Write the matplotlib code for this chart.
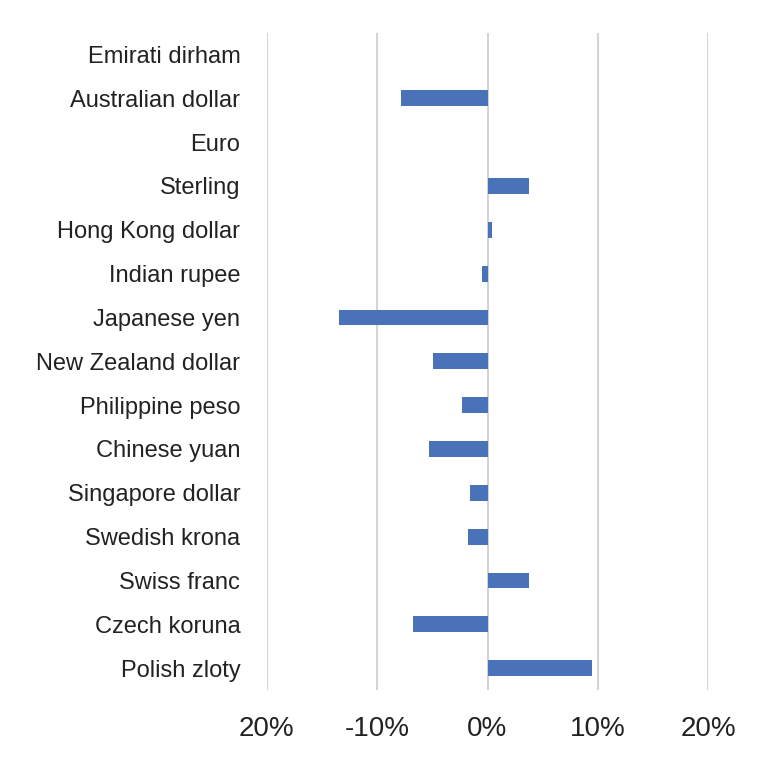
import matplotlib
matplotlib.use('Agg')
import matplotlib.pyplot as plt
import numpy as np

currencies = ['Emirati dirham', 'Australian dollar', 'Euro', 'Sterling', 'Hong Kong dollar',
              'Indian rupee', 'Japanese yen', 'New Zealand dollar', 'Philippine peso',
              'Chinese yuan', 'Singapore dollar', 'Swedish krona', 'Swiss franc',
              'Czech koruna', 'Polish zloty']
changes = [0.0, -7.8, 0.05, 3.8, 0.45, -0.5, -13.5, -4.9, -2.3, -5.3, -1.55, -1.8, 3.75, -6.75, 9.5]
xticks = [-20, -10, 0, 10, 20]
xtick_labels = ['20%', '-10%', '0%', '10%', '20%']

plt.rcParams['font.family'] = ['Liberation Sans', 'DejaVu Sans']

fig = plt.figure(figsize=(7.8, 7.76), dpi=100)
ax = fig.add_axes([0.342, 0.1108, 0.566, 0.8472])

y = np.arange(len(currencies))[::-1]
ax.barh(y, changes, height=0.36, color='#4A72B8', zorder=3)

ax.set_xlim(-20, 20)
ax.set_ylim(-0.5, len(currencies) - 0.5)
ax.set_xticks(xticks)
ax.set_xticklabels(xtick_labels, fontsize=20, color='#222222')
ax.set_yticks(y)
ax.set_yticklabels(currencies, fontsize=17, color='#222222')
ax.tick_params(axis='both', length=0)
ax.tick_params(axis='y', pad=19)
ax.tick_params(axis='x', pad=19)
ax.grid(axis='x', color='#d4d4d4', linewidth=1.5, zorder=0)
for s in ax.spines.values():
    s.set_visible(False)

fig.savefig('out.png', dpi=100, facecolor='white')
